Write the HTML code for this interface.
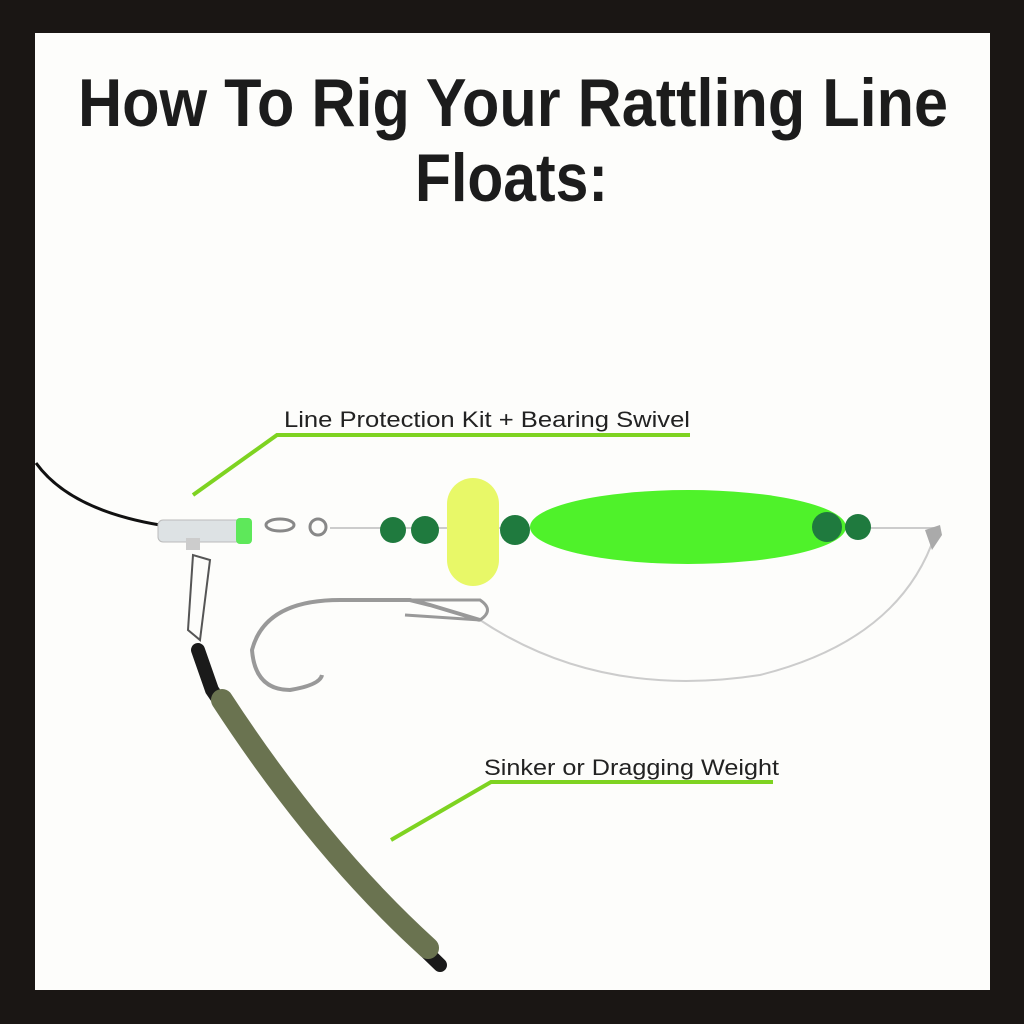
<!DOCTYPE html>
<html><head><meta charset="utf-8"><style>
html,body{margin:0;padding:0;background:#1a1614;}
svg{display:block;}
</style></head><body>
<svg width="1024" height="1024" viewBox="0 0 1024 1024" xmlns="http://www.w3.org/2000/svg">
<rect width="1024" height="1024" fill="#1a1614"/>
<rect x="35" y="33" width="955" height="957" fill="#fdfdfb"/>
<g font-family="Liberation Sans, sans-serif" font-weight="bold" fill="#1c1c1c">
<text x="78" y="126" font-size="68" textLength="870" lengthAdjust="spacingAndGlyphs">How To Rig Your Rattling Line</text>
<text x="415" y="201" font-size="68" textLength="193" lengthAdjust="spacingAndGlyphs">Floats:</text>
</g>
<g font-family="Liberation Sans, sans-serif" fill="#222" font-size="22">
<text x="284" y="427" textLength="406" lengthAdjust="spacingAndGlyphs">Line Protection Kit + Bearing Swivel</text>
<text x="484" y="775" textLength="295" lengthAdjust="spacingAndGlyphs">Sinker or Dragging Weight</text>
</g>
<g stroke="#7ed321" stroke-width="4" fill="none">
<polyline points="193,495 277,435 690,435"/>
<polyline points="391,840 491,782 773,782"/>
</g>
<path d="M36,463 Q70,510 160,525" stroke="#111" stroke-width="3" fill="none"/>
<line x1="330" y1="528" x2="935" y2="528" stroke="#ccc" stroke-width="2"/>
<path d="M935,535 Q900,640 760,675 Q600,700 480,620" stroke="#ccc" stroke-width="2" fill="none"/>
<path d="M925,530 l15,-5 l2,10 l-10,15 Z" fill="#aaa"/>
<rect x="158" y="520" width="83" height="22" rx="5" fill="#dde2e4" stroke="#bbb"/>
<rect x="236" y="518" width="16" height="26" rx="4" fill="#5ee85a"/>
<rect x="186" y="538" width="14" height="12" fill="#ccc"/>
<ellipse cx="280" cy="525" rx="14" ry="6" fill="none" stroke="#888" stroke-width="3"/>
<circle cx="318" cy="527" r="8" fill="none" stroke="#888" stroke-width="3"/>
<path d="M193,555 L188,630 L200,640 L210,560 Z" fill="none" stroke="#555" stroke-width="2"/>
<path d="M198,650 L212,690 Q320,850 440,965" stroke="#1a1a1a" stroke-width="14" stroke-linecap="round" fill="none"/>
<path d="M222,700 Q320,850 428,948" stroke="#6a7350" stroke-width="22" stroke-linecap="round" fill="none"/>
<rect x="447" y="478" width="52" height="108" rx="26" fill="#e8f868"/>
<ellipse cx="688" cy="527" rx="158" ry="37" fill="#4ff22a"/>
<g fill="#1f7a3e">
<circle cx="393" cy="530" r="13"/><circle cx="425" cy="530" r="14"/>
<circle cx="515" cy="530" r="15"/><circle cx="827" cy="527" r="15"/><circle cx="858" cy="527" r="13"/>
</g>
<path d="M480,620 L430,605 L410,600 L340,600 Q265,600 252,650 Q255,690 290,690 Q320,685 322,675" stroke="#999" stroke-width="4" fill="none"/>
<path d="M405,600 L480,600 Q495,610 480,620 L405,615" stroke="#999" stroke-width="3" fill="none"/>
</svg>
</body></html>
